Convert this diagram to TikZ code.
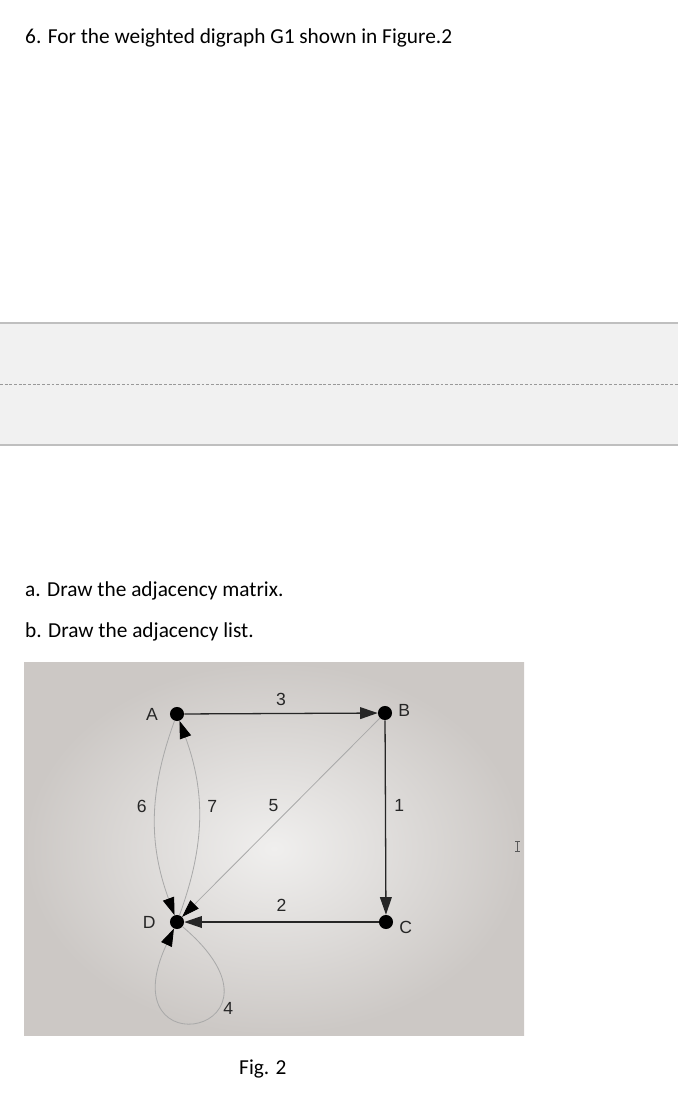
\documentclass[tikz,border=0pt]{standalone}
\usepackage{fontspec}
\setmainfont{Carlito}
\newfontfamily\graphfont{Liberation Sans}
\usepackage{tikz}
\usetikzlibrary{arrows.meta,positioning}

\definecolor{bandgray}{HTML}{F1F1F1}
\definecolor{rulegray}{HTML}{BFBFBF}
\definecolor{photoin}{HTML}{F0EFEE}
\definecolor{photoout}{HTML}{CCC8C5}
\definecolor{edgegray}{HTML}{A9A9A9}
\definecolor{inkgray}{HTML}{262626}

\tikzset{
  doctext/.style={anchor=base west, inner sep=0pt, font=\fontsize{18.2}{22}\selectfont},
  vertex/.style={circle, fill=black, inner sep=0pt, minimum size=12pt},
  vname/.style={inner sep=0pt, text=inkgray, font=\graphfont\fontsize{15}{18}\selectfont},
  weight/.style={inner sep=0pt, text=inkgray, font=\graphfont\fontsize{15}{18}\selectfont},
  solidedge/.style={draw=inkgray, line width=1.1pt, -{Triangle[length=15pt,width=10pt]}},
  lightedge/.style={draw=edgegray, line width=0.7pt, -{Triangle[length=15pt,width=10pt,color=black]}},
}

\begin{document}
\begin{tikzpicture}[x=0.03cm, y=0.03cm]
    \useasboundingbox (0,0) rectangle (678,-1093);

    % Question
    \node[doctext] (q6) at (25,-43.3) {6. For the weighted digraph G1 shown in Figure.2};

    % Answer band
    \fill[bandgray] (0,-323) rectangle (678,-445);
    \draw[rulegray, line width=0.9pt] (0,-323) -- (678,-323);
    \draw[rulegray, line width=0.9pt] (0,-445) -- (678,-445);
    \draw[rulegray!80!black, dash pattern=on 2.5pt off 1.5pt] (0,-384) -- (678,-384);

    % Tasks
    \node[doctext] (qa) at (25,-596) {a. Draw the adjacency matrix.};
    \node[doctext] (qb) at (25,-637) {b. Draw the adjacency list.};

    % Photo
    \shade[inner color=photoin, outer color=photoout] (24,-662) rectangle (524,-1035);
    \draw[gray!70!black, line width=0.6pt] (515,-841) -- (520,-841) (517.5,-841) -- (517.5,-851) (515,-851) -- (520,-851);

    % Vertices
    \node[vertex] (A) at (177,-714) {};
    \node[vertex] (B) at (385,-713) {};
    \node[vertex] (C) at (386,-922) {};
    \node[vertex] (D) at (177,-922) {};
    \node[vname, left=10pt of A] (nA) {A};
    \node[vname, right=5pt of B, yshift=2pt] (nB) {B};
    \node[vname, right=5pt of C, yshift=-5pt] (nC) {C};
    \node[vname, left=12pt of D] (nD) {D};

    % Edges
    \draw[solidedge] (A) -- node[weight, above=6pt] (w3) {3} (B);
    \draw[solidedge] (B) -- node[weight, pos=0.44, right=7pt] (w1) {1} (C);
    \draw[solidedge] (C) -- node[weight, above=8pt] (w2) {2} (D);
    \draw[lightedge] (B) -- node[weight, pos=0.44, left=12pt] (w5) {5} (D);
    \draw[lightedge] (A) to[bend right=20] node[weight, pos=0.44, left=7pt] (w6) {6} (D);
    \draw[lightedge] (D) to[bend right=20] node[weight, pos=0.56, right=7pt] (w7) {7} (A);
    \draw[lightedge] (D) .. controls +(130,-110) and +(-70,-150) .. node[weight, pos=0.35, right=3pt] (w4) {4} (D);

    % Caption
    \node[doctext] (cap) at (239,-1074) {Fig. 2};
\end{tikzpicture}
\end{document}
